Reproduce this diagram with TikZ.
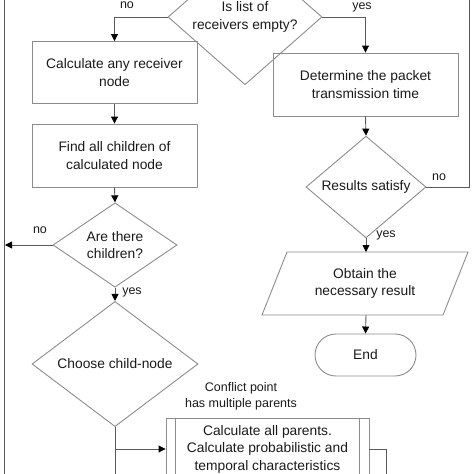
\documentclass[tikz,border=0pt]{standalone}
\usepackage{fontspec}
\setmainfont{Liberation Sans}
\usetikzlibrary{shapes.geometric,arrows.meta,calc}
\definecolor{boxc}{HTML}{8C8C8C}
\definecolor{linec}{HTML}{5A5A5A}
\definecolor{txtc}{HTML}{1A1A1A}
\tikzset{
  base/.style={text=txtc, font=\fontsize{13.8}{17.5}\selectfont, align=center, inner sep=0pt},
  procbox/.style={base, draw=boxc, line width=0.9pt, rectangle},
  decbox/.style={base, draw=boxc, line width=0.9pt, diamond},
  lbl/.style={text=txtc, font=\fontsize{12.5}{16}\selectfont, align=center, inner sep=0pt},
  conn/.style={draw=linec, line width=0.9pt},
  arr/.style={conn, -{Triangle[length=7pt,width=7pt,color=black]}},
}
\begin{document}
\begin{tikzpicture}[x=1pt,y=-1pt]
\useasboundingbox (0,0) rectangle (474,474);
\clip (0,0) rectangle (474,474);
% top decision
\node[decbox, minimum width=154pt, minimum height=92pt] (d1) at (245,17) {Is list of\\receivers empty?};
% left column
\node[procbox, minimum width=165pt, minimum height=62pt] (b1) at (114.5,72.5) {Calculate any receiver\\node};
\node[procbox, minimum width=165pt, minimum height=63pt] (b2) at (114.5,155.5) {Find all children of\\calculated node};
\node[decbox, minimum width=124pt, minimum height=73pt] (d2) at (115,245) {Are there\\children?};
\node[decbox, minimum width=166pt, minimum height=91pt] (d3) at (115,364) {Choose child-node};
\node[procbox, minimum width=203pt, minimum height=62pt] (pp) at (267.5,449) {Calculate all parents.\\Calculate probabilistic and\\temporal characteristics};
\draw[draw=boxc, line width=0.9pt] ($(pp.north west)+(10,0)$) -- ($(pp.south west)+(10,0)$);
\draw[draw=boxc, line width=0.9pt] ($(pp.north east)+(-10,0)$) -- ($(pp.south east)+(-10,0)$);
\node[lbl] (cp) at (241,396) {Conflict point\\has multiple parents};
% right column
\node[procbox, minimum width=185pt, minimum height=63pt] (b3) at (365.5,84.5) {Determine the packet\\transmission time};
\node[decbox, minimum width=120pt, minimum height=82pt] (d4) at (366,187) {Results satisfy};
\node[base, minimum width=206pt, minimum height=63pt] (ob) at (365,283.5) {Obtain the\\necessary result};
\draw[draw=boxc, line width=0.9pt] (287,252) -- (468,252) -- (443,315) -- (262,315) -- cycle;
\node[procbox, minimum width=101pt, minimum height=42pt, rounded corners=21pt] (en) at (365.5,355) {End};
% coordinates
\coordinate (ltop) at (4,-40);
\coordinate (lbot) at (4,480);
\coordinate (lhit) at (4,245);
\coordinate (cbot) at (115,480);
\coordinate (cbr) at (115,449);
\coordinate (rr) at (386,449);
\coordinate (rrb) at (386,480);
\coordinate (rt) at (469,187);
\coordinate (rtop) at (469,-40);
% connectors
\draw[arr] (d1.west) -| (b1.north);
\draw[arr] (d1.east) -| (b3.north);
\draw[arr] (b1.south) -- (b2.north);
\draw[arr] (b2.south) -- (d2.north);
\draw[conn] (ltop) -- (lbot);
\draw[arr] (d2.west) -- ($(lhit)+(1,0)$);
\draw[arr] (d2.south) -- (d3.north);
\draw[conn] (d3.south) -- (cbot);
\draw[arr] (cbr) -- (pp.west);
\draw[conn] (pp.east |- cbr) -- (rr) -- (rrb);
\draw[arr] (b3.south) -- (d4.north);
\draw[conn] (d4.east) -- (rt) -- (rtop);
\draw[arr] (d4.south) -- (366,252);
\draw[arr] (366,315) -- (en.north);
% labels
\node[lbl] (lno1) at (127,5) {no};
\node[lbl] (lyes1) at (362,7) {yes};
\node[lbl] (lno2) at (40,230) {no};
\node[lbl] (lyes2) at (132,292) {yes};
\node[lbl] (lno3) at (439,177) {no};
\node[lbl] (lyes3) at (386,235) {yes};
\end{tikzpicture}
\end{document}
